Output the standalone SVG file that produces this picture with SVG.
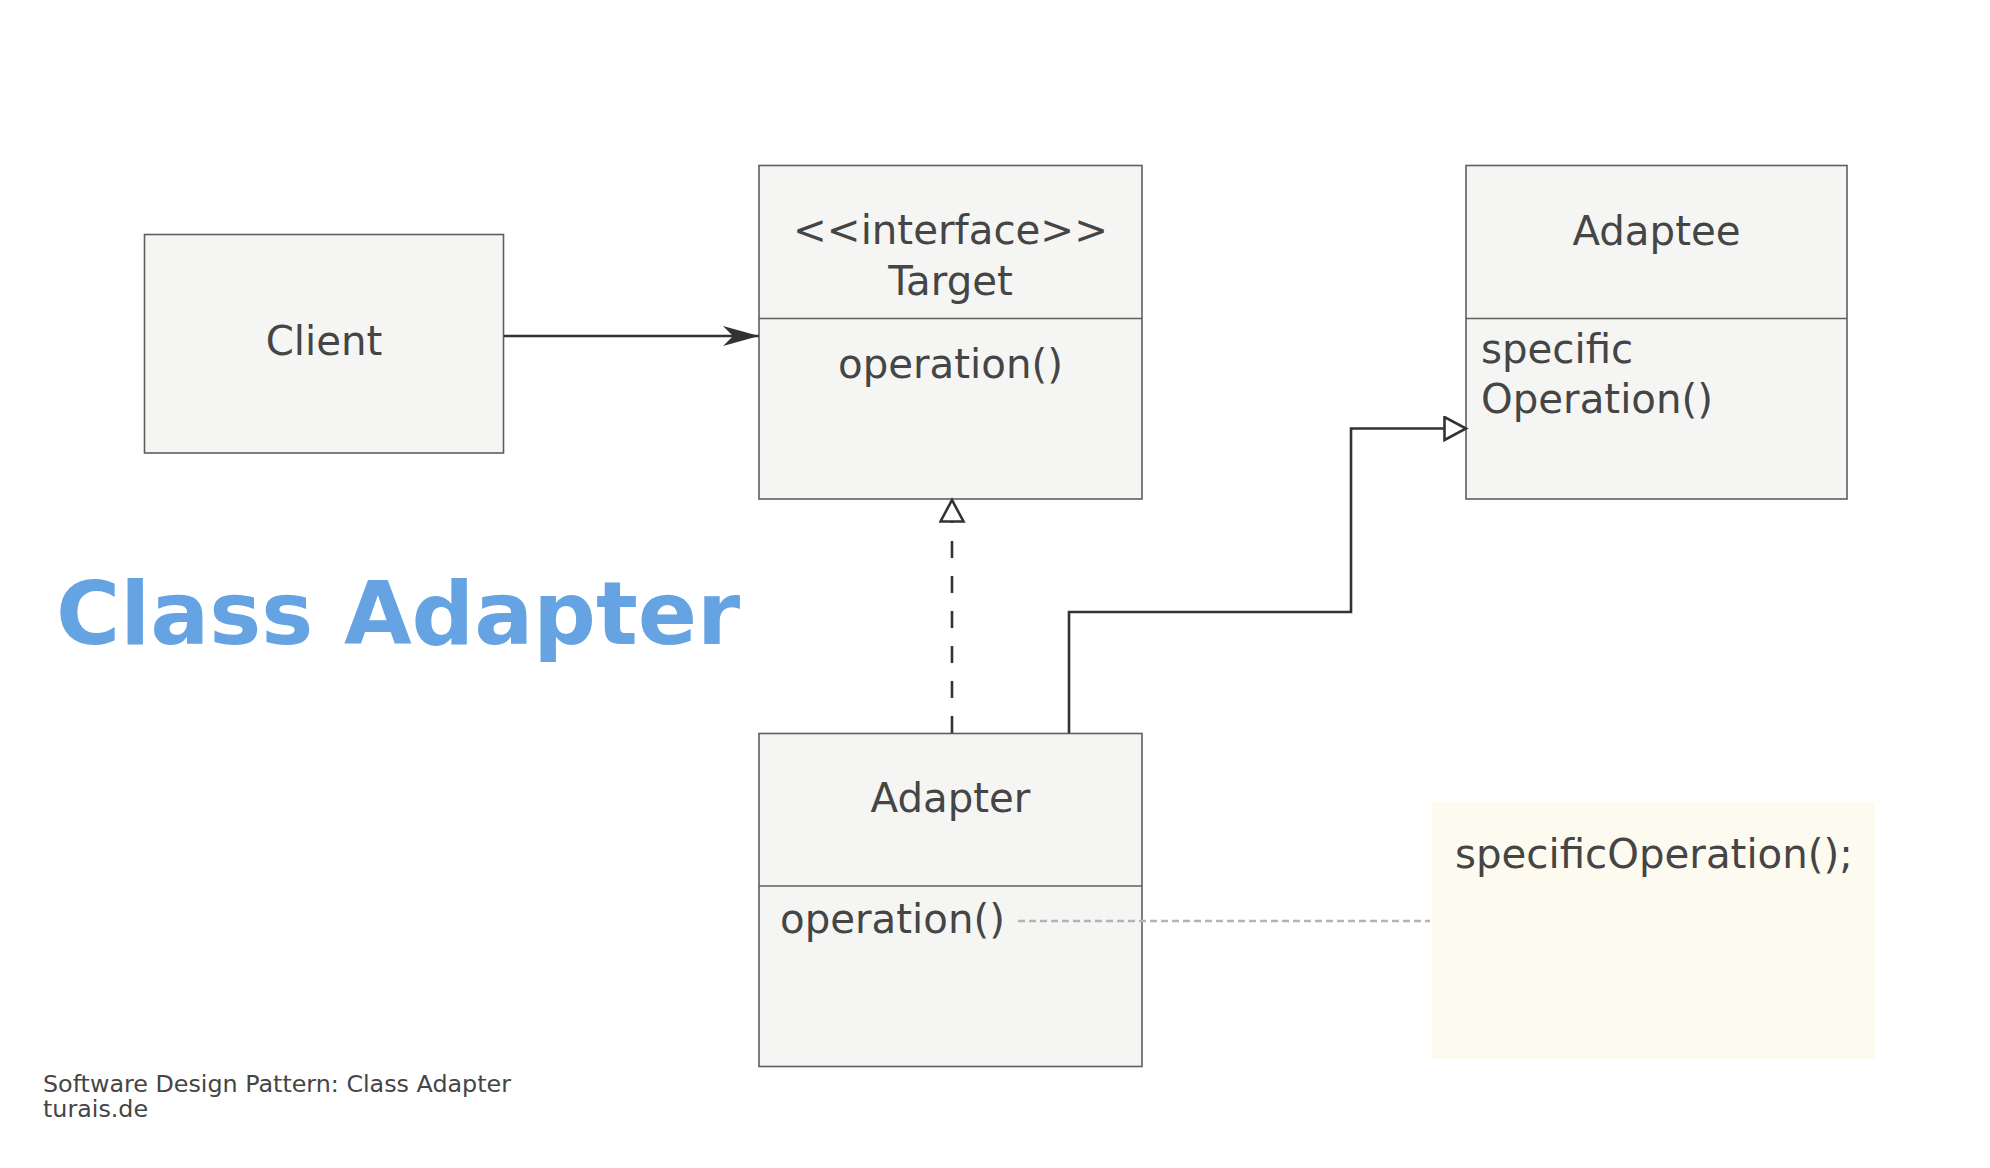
<svg xmlns="http://www.w3.org/2000/svg" width="1990" height="1168" viewBox="0 0 1990 1168">
<style>
.box{fill:#f5f5f4;stroke:#5e5e5e;stroke-width:1.6}
.div{stroke:#5e5e5e;stroke-width:1.4}
.t{font-family:"DejaVu Sans",Verdana,sans-serif;font-size:40.3px;fill:#454545}
.c{text-anchor:middle}
.conn{fill:none;stroke:#333;stroke-width:2.6}
.foot{font-family:"DejaVu Sans",Verdana,sans-serif;font-size:23.8px;fill:#454545}
</style>
<defs>
<marker id="hollow" markerUnits="userSpaceOnUse" markerWidth="30" markerHeight="30" refX="23" refY="13" orient="auto" viewBox="0 0 30 30">
<path d="M1.5,1.5 L23,13 L1.5,24.5 Z" fill="#fff" stroke="#333" stroke-width="2.6" stroke-dasharray="none"/>
</marker>
<marker id="filled" markerUnits="userSpaceOnUse" markerWidth="40" markerHeight="24" refX="36" refY="11" orient="auto" viewBox="0 0 40 24">
<path d="M36,11 L0,1 L10,11 L0,21 Z" fill="#333"/>
</marker>
</defs>
<rect width="1990" height="1168" fill="#fff"/>
<text x="56" y="644" font-family="DejaVu Sans,Verdana,sans-serif" font-weight="bold" font-size="87.5" fill="#65a3e2">Class Adapter</text>
<g id="client">
<rect class="box" x="144.5" y="234.5" width="359" height="218.5"/>
<text class="t c" x="324" y="355">Client</text>
</g>
<g id="target">
<rect class="box" x="759" y="165.5" width="383" height="333.5"/>
<line class="div" x1="759" y1="318.5" x2="1142" y2="318.5"/>
<text class="t c" x="950.5" y="244">&lt;&lt;interface&gt;&gt;</text>
<text class="t c" x="950.5" y="295">Target</text>
<text class="t c" x="950.5" y="378">operation()</text>
</g>
<g id="adaptee">
<rect class="box" x="1466" y="165.5" width="381" height="333.5"/>
<line class="div" x1="1466" y1="318.5" x2="1847" y2="318.5"/>
<text class="t c" x="1656.5" y="245">Adaptee</text>
<text class="t" x="1481" y="363">specific</text>
<text class="t" x="1481" y="413">Operation()</text>
</g>
<g id="adapter">
<rect class="box" x="759" y="733.5" width="383" height="333"/>
<line class="div" x1="759" y1="886" x2="1142" y2="886"/>
<text class="t c" x="950.5" y="812">Adapter</text>
<text class="t" x="780" y="933">operation()</text>
</g>
<g id="note">
<rect x="1432" y="802" width="443" height="257" fill="#fdfbf0"/>
<text class="t" x="1455" y="868">specificOperation();</text>
</g>
<g id="connectors">
<path class="conn" d="M504,336 L759,336" marker-end="url(#filled)"/>
<path class="conn" d="M952,733 L952,500" stroke-dasharray="17 18" marker-end="url(#hollow)"/>
<path class="conn" d="M1069,733 L1069,612 L1351,612 L1351,428.5 L1466,428.5" marker-end="url(#hollow)"/>
<path d="M1018,921 L1430,921" fill="none" stroke="#b4b4b4" stroke-width="2.4" stroke-dasharray="7 4"/>
</g>
<g id="footer">
<text class="foot" x="43" y="1092">Software Design Pattern: Class Adapter</text>
<text class="foot" x="43" y="1117">turais.de</text>
</g>
</svg>
